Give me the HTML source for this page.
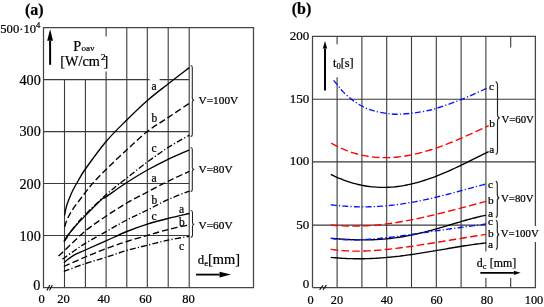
<!DOCTYPE html>
<html><head><meta charset="utf-8"><style>
html,body{margin:0;padding:0;background:#fff;}
body{width:544px;height:307px;overflow:hidden;}
svg{display:block;}
text{font-family:"Liberation Serif","Times New Roman",serif;fill:#000;stroke:#000;stroke-width:0.22px;}
</style></head><body>
<svg width="544" height="307" viewBox="0 0 544 307">
<rect width="544" height="307" fill="#fff"/>
<path d="M43.5,79.6H189.2M43.5,131.6H189.2M43.5,183.5H189.2M43.5,235.5H189.2M64.5,79.6V287.7M85.4,79.6V287.7M106.1,27.5V36.4M106.1,71.4V287.7M126.8,27.5V287.7M147.3,27.5V287.7M168.2,27.5V287.7M189.2,27.5V287.7" stroke="#3a3a3a" stroke-width="1.1" fill="none"/>
<path d="M43.5,27.5H253.5V287.7H43.5Z" stroke="#444" stroke-width="1.25" fill="none"/>
<rect x="149.7" y="78.4" width="9.9" height="2.4" fill="#fff"/>
<path d="M64.50,215.50 C64.83,213.93 65.62,209.15 66.50,206.10 C67.38,203.05 68.72,199.88 69.80,197.20 C70.88,194.52 71.58,192.78 73.00,190.00 C74.42,187.22 76.23,184.00 78.30,180.50 C80.37,177.00 80.73,175.53 85.40,169.00 C90.07,162.47 99.40,149.47 106.30,141.30 C113.20,133.13 119.95,126.80 126.80,120.00 C133.65,113.20 140.53,106.50 147.40,100.50 C154.27,94.50 161.02,89.48 168.00,84.00 C174.98,78.52 185.75,70.33 189.30,67.60" fill="none" stroke="#000" stroke-width="1.35"/>
<path d="M64.50,227.00 C65.07,225.47 66.40,220.93 67.90,217.80 C69.40,214.67 71.55,211.17 73.50,208.20 C75.45,205.23 77.62,202.63 79.60,200.00 C81.58,197.37 83.50,194.85 85.40,192.40 C87.30,189.95 89.15,187.50 91.00,185.30 C92.85,183.10 93.95,181.87 96.50,179.20 C99.05,176.53 101.25,174.20 106.30,169.30 C111.35,164.40 119.92,156.13 126.80,149.80 C133.68,143.47 140.73,136.67 147.60,131.30 C154.47,125.93 161.05,122.27 168.00,117.60 C174.95,112.93 185.75,105.68 189.30,103.30" fill="none" stroke="#000" stroke-width="1.35" stroke-dasharray="6.5,3"/>
<path d="M64.50,241.00 C66.33,238.42 72.02,229.92 75.50,225.50 C78.98,221.08 80.27,219.67 85.40,214.50 C90.53,209.33 99.40,200.58 106.30,194.50 C113.20,188.42 119.95,183.42 126.80,178.00 C133.65,172.58 140.53,167.08 147.40,162.00 C154.27,156.92 161.02,151.97 168.00,147.50 C174.98,143.03 185.75,137.25 189.30,135.20" fill="none" stroke="#000" stroke-width="1.35" stroke-dasharray="6,2.2,1.2,2.2"/>
<path d="M63.80,241.60 C64.45,240.58 65.75,238.10 67.70,235.50 C69.65,232.90 72.55,229.32 75.50,226.00 C78.45,222.68 81.15,219.93 85.40,215.60 C89.65,211.27 97.52,203.17 101.00,200.00 C104.48,196.83 102.00,199.52 106.30,196.60 C110.60,193.68 119.95,186.93 126.80,182.50 C133.65,178.07 140.53,173.87 147.40,170.00 C154.27,166.13 161.02,162.67 168.00,159.30 C174.98,155.93 185.75,151.38 189.30,149.80" fill="none" stroke="#000" stroke-width="1.35"/>
<path d="M58.60,256.00 C59.58,255.08 60.05,254.67 64.50,250.50 C68.95,246.33 78.33,236.75 85.30,231.00 C92.27,225.25 99.38,220.67 106.30,216.00 C113.22,211.33 119.95,207.00 126.80,203.00 C133.65,199.00 140.53,195.62 147.40,192.00 C154.27,188.38 161.02,184.75 168.00,181.30 C174.98,177.85 185.75,172.97 189.30,171.30" fill="none" stroke="#000" stroke-width="1.35" stroke-dasharray="6.5,3"/>
<path d="M62.40,259.20 C64.27,257.87 69.78,253.83 73.60,251.20 C77.42,248.57 79.82,246.72 85.30,243.40 C90.78,240.08 99.58,235.20 106.50,231.30 C113.42,227.40 119.98,223.55 126.80,220.00 C133.62,216.45 140.53,213.40 147.40,210.00 C154.27,206.60 161.02,202.75 168.00,199.60 C174.98,196.45 185.75,192.52 189.30,191.10" fill="none" stroke="#000" stroke-width="1.35" stroke-dasharray="6,2.2,1.2,2.2"/>
<path d="M63.80,262.60 C65.43,261.38 70.02,257.40 73.60,255.30 C77.18,253.20 79.82,252.45 85.30,250.00 C90.78,247.55 99.58,243.68 106.50,240.60 C113.42,237.52 119.98,234.25 126.80,231.50 C133.62,228.75 140.53,226.27 147.40,224.10 C154.27,221.93 161.02,220.27 168.00,218.50 C174.98,216.73 185.75,214.33 189.30,213.50" fill="none" stroke="#000" stroke-width="1.35"/>
<path d="M63.80,266.50 C67.38,264.92 78.18,260.00 85.30,257.00 C92.42,254.00 99.58,251.08 106.50,248.50 C113.42,245.92 119.98,243.68 126.80,241.50 C133.62,239.32 140.53,237.38 147.40,235.40 C154.27,233.42 161.02,231.37 168.00,229.60 C174.98,227.83 185.75,225.60 189.30,224.80" fill="none" stroke="#000" stroke-width="1.35" stroke-dasharray="6.5,3"/>
<path d="M63.80,271.40 C67.38,270.10 78.18,265.98 85.30,263.60 C92.42,261.22 99.58,259.28 106.50,257.10 C113.42,254.92 119.98,252.48 126.80,250.50 C133.62,248.52 140.53,246.92 147.40,245.20 C154.27,243.48 161.02,241.68 168.00,240.20 C174.98,238.72 185.75,236.95 189.30,236.30" fill="none" stroke="#000" stroke-width="1.35" stroke-dasharray="6,2.2,1.2,2.2"/>
<path d="M190.6,65.5 Q192.3,65.5 192.3,67.5 L192.3,98.2 Q192.3,100.2 194.2,100.2 Q192.3,100.2 192.3,102.2 L192.3,134.5 Q192.3,136.5 190.6,136.5" fill="none" stroke="#222" stroke-width="1.05"/>
<path d="M190.6,147.5 Q192.3,147.5 192.3,149.5 L192.3,167.5 Q192.3,169.5 194.2,169.5 Q192.3,169.5 192.3,171.5 L192.3,189.5 Q192.3,191.5 190.6,191.5" fill="none" stroke="#222" stroke-width="1.05"/>
<path d="M190.6,210.5 Q192.5,210.5 192.5,212.5 L192.5,222.5 Q192.5,224.5 194.2,224.5 Q192.5,224.5 192.5,226.5 L192.5,235.3 Q192.5,237.3 190.6,237.3" fill="none" stroke="#222" stroke-width="1.05"/>
<path d="M312.5,99.3H535.4M312.5,161.9H535.4M312.5,225.1H485.9M337.1,36.3V44.3M337.1,77.3V287.5M361.9,36.3V287.5M386.7,36.3V287.5M411.5,36.3V287.5M436.3,36.3V287.5M461.1,36.3V287.5M485.9,36.3V251.5M485.9,278V287.5M510.7,36.3V47.4M510.7,278V287.5" stroke="#3a3a3a" stroke-width="1.1" fill="none"/>
<path d="M312.5,287.5V36.3H535.4V226M535.4,242V287.5H312.5" stroke="#444" stroke-width="1.25" fill="none"/>
<path d="M331.30,143.15 C331.80,143.42 333.32,144.28 334.32,144.81 C335.33,145.35 336.34,145.87 337.35,146.37 C338.36,146.87 339.37,147.35 340.38,147.82 C341.38,148.28 342.39,148.73 343.40,149.16 C344.41,149.59 345.42,150.00 346.43,150.39 C347.43,150.79 348.44,151.16 349.45,151.52 C350.46,151.88 351.47,152.22 352.48,152.55 C353.48,152.88 354.49,153.19 355.50,153.48 C356.51,153.77 357.52,154.05 358.53,154.31 C359.53,154.57 360.54,154.81 361.55,155.04 C362.56,155.27 363.57,155.48 364.58,155.68 C365.58,155.88 366.59,156.06 367.60,156.23 C368.61,156.39 369.62,156.54 370.62,156.68 C371.63,156.82 372.64,156.94 373.65,157.05 C374.66,157.15 375.67,157.25 376.68,157.33 C377.68,157.40 378.69,157.47 379.70,157.52 C380.71,157.57 381.72,157.61 382.73,157.63 C383.73,157.65 384.74,157.66 385.75,157.66 C386.76,157.65 387.77,157.64 388.78,157.61 C389.78,157.58 390.79,157.53 391.80,157.48 C392.81,157.42 393.82,157.36 394.83,157.28 C395.83,157.20 396.84,157.10 397.85,157.00 C398.86,156.90 399.87,156.78 400.88,156.65 C401.88,156.53 402.89,156.39 403.90,156.24 C404.91,156.09 405.92,155.93 406.93,155.75 C407.93,155.58 408.94,155.40 409.95,155.21 C410.96,155.01 411.97,154.81 412.98,154.60 C413.98,154.38 414.99,154.16 416.00,153.93 C417.01,153.69 418.02,153.45 419.03,153.20 C420.03,152.94 421.04,152.68 422.05,152.41 C423.06,152.14 424.07,151.86 425.08,151.57 C426.08,151.28 427.09,150.99 428.10,150.68 C429.11,150.38 430.12,150.06 431.12,149.74 C432.13,149.42 433.14,149.09 434.15,148.76 C435.16,148.42 436.17,148.08 437.18,147.72 C438.18,147.37 439.19,147.02 440.20,146.65 C441.21,146.29 442.22,145.91 443.23,145.54 C444.23,145.16 445.24,144.78 446.25,144.39 C447.26,144.00 448.27,143.60 449.28,143.20 C450.28,142.80 451.29,142.39 452.30,141.98 C453.31,141.57 454.32,141.15 455.33,140.73 C456.33,140.31 457.34,139.88 458.35,139.45 C459.36,139.02 460.37,138.59 461.38,138.15 C462.38,137.71 463.39,137.27 464.40,136.82 C465.41,136.38 466.42,135.93 467.43,135.48 C468.43,135.02 469.44,134.57 470.45,134.11 C471.46,133.65 472.47,133.19 473.48,132.73 C474.48,132.27 475.49,131.80 476.50,131.34 C477.51,130.87 478.52,130.40 479.53,129.93 C480.53,129.46 481.54,128.99 482.55,128.52 C483.56,128.05 484.57,127.58 485.58,127.10 C486.58,126.63 488.10,125.92 488.60,125.68" fill="none" stroke="#ff0000" stroke-width="1.35" stroke-dasharray="7.5,3.3"/>
<path d="M333.60,80.40 C334.43,81.38 337.08,84.47 338.60,86.30 C340.12,88.13 341.05,89.65 342.70,91.40 C344.35,93.15 346.55,95.13 348.50,96.80 C350.45,98.47 352.35,99.95 354.40,101.40 C356.45,102.85 358.70,104.32 360.80,105.50 C362.90,106.68 364.80,107.60 367.00,108.50 C369.20,109.40 370.65,110.07 374.00,110.90 C377.35,111.73 382.93,112.95 387.10,113.50 C391.27,114.05 394.92,114.25 399.00,114.20 C403.08,114.15 407.43,113.68 411.60,113.20 C415.77,112.72 419.85,112.12 424.00,111.30 C428.15,110.48 430.28,110.27 436.50,108.30 C442.72,106.33 452.75,102.90 461.30,99.50 C469.85,96.10 483.38,89.83 487.80,87.90" fill="none" stroke="#0514ff" stroke-width="1.35" stroke-dasharray="6,2.2,1.2,2.2"/>
<path d="M330.80,174.41 C331.31,174.66 332.82,175.41 333.83,175.89 C334.85,176.37 335.86,176.83 336.87,177.28 C337.88,177.72 338.89,178.16 339.90,178.58 C340.92,178.99 341.93,179.40 342.94,179.78 C343.95,180.17 344.96,180.54 345.97,180.90 C346.98,181.26 348.00,181.60 349.01,181.93 C350.02,182.26 351.03,182.57 352.04,182.87 C353.05,183.17 354.07,183.45 355.08,183.72 C356.09,183.98 357.10,184.24 358.11,184.47 C359.12,184.71 360.13,184.93 361.15,185.14 C362.16,185.35 363.17,185.54 364.18,185.72 C365.19,185.90 366.20,186.06 367.22,186.21 C368.23,186.36 369.24,186.50 370.25,186.62 C371.26,186.74 372.27,186.84 373.28,186.93 C374.30,187.03 375.31,187.10 376.32,187.16 C377.33,187.23 378.34,187.28 379.35,187.31 C380.37,187.34 381.38,187.37 382.39,187.37 C383.40,187.38 384.41,187.37 385.42,187.35 C386.43,187.33 387.45,187.29 388.46,187.25 C389.47,187.20 390.48,187.14 391.49,187.06 C392.50,186.99 393.52,186.90 394.53,186.80 C395.54,186.70 396.55,186.59 397.56,186.46 C398.57,186.34 399.58,186.20 400.60,186.05 C401.61,185.89 402.62,185.73 403.63,185.56 C404.64,185.38 405.65,185.19 406.67,184.99 C407.68,184.79 408.69,184.58 409.70,184.36 C410.71,184.14 411.72,183.90 412.73,183.66 C413.75,183.42 414.76,183.16 415.77,182.89 C416.78,182.63 417.79,182.35 418.80,182.06 C419.82,181.77 420.83,181.48 421.84,181.17 C422.85,180.86 423.86,180.54 424.87,180.22 C425.88,179.89 426.90,179.55 427.91,179.21 C428.92,178.86 429.93,178.51 430.94,178.14 C431.95,177.78 432.97,177.41 433.98,177.03 C434.99,176.65 436.00,176.26 437.01,175.86 C438.02,175.47 439.03,175.06 440.05,174.65 C441.06,174.24 442.07,173.82 443.08,173.40 C444.09,172.97 445.10,172.54 446.12,172.10 C447.13,171.66 448.14,171.22 449.15,170.77 C450.16,170.32 451.17,169.87 452.18,169.41 C453.20,168.95 454.21,168.48 455.22,168.01 C456.23,167.54 457.24,167.07 458.25,166.59 C459.27,166.11 460.28,165.63 461.29,165.14 C462.30,164.66 463.31,164.17 464.32,163.68 C465.33,163.19 466.35,162.69 467.36,162.19 C468.37,161.70 469.38,161.20 470.39,160.70 C471.40,160.20 472.42,159.70 473.43,159.20 C474.44,158.70 475.45,158.19 476.46,157.69 C477.47,157.19 478.48,156.68 479.50,156.18 C480.51,155.68 481.52,155.18 482.53,154.68 C483.54,154.18 484.55,153.68 485.57,153.18 C486.58,152.69 488.09,151.95 488.60,151.70" fill="none" stroke="#000" stroke-width="1.35"/>
<path d="M330.80,224.91 C331.31,224.96 332.83,225.13 333.85,225.24 C334.86,225.34 335.88,225.43 336.89,225.51 C337.91,225.60 338.92,225.67 339.94,225.74 C340.95,225.81 341.97,225.87 342.98,225.92 C344.00,225.97 345.01,226.02 346.03,226.05 C347.04,226.09 348.06,226.12 349.07,226.14 C350.09,226.16 351.10,226.17 352.12,226.18 C353.13,226.18 354.15,226.18 355.16,226.18 C356.18,226.17 357.19,226.15 358.21,226.13 C359.22,226.11 360.24,226.08 361.25,226.05 C362.27,226.01 363.28,225.97 364.30,225.92 C365.31,225.87 366.33,225.82 367.34,225.76 C368.36,225.70 369.37,225.63 370.39,225.56 C371.40,225.48 372.42,225.41 373.43,225.32 C374.45,225.24 375.46,225.15 376.48,225.05 C377.49,224.95 378.51,224.85 379.52,224.74 C380.54,224.64 381.55,224.52 382.57,224.41 C383.58,224.29 384.60,224.17 385.61,224.04 C386.63,223.91 387.64,223.78 388.66,223.64 C389.67,223.50 390.69,223.36 391.70,223.21 C392.72,223.06 393.73,222.91 394.75,222.75 C395.76,222.60 396.78,222.44 397.79,222.27 C398.81,222.11 399.82,221.94 400.84,221.76 C401.85,221.59 402.87,221.41 403.88,221.23 C404.90,221.05 405.91,220.86 406.93,220.68 C407.94,220.49 408.96,220.29 409.97,220.10 C410.99,219.90 412.00,219.70 413.02,219.50 C414.03,219.29 415.05,219.09 416.06,218.88 C417.08,218.67 418.09,218.45 419.11,218.24 C420.12,218.02 421.14,217.80 422.15,217.58 C423.17,217.36 424.18,217.14 425.20,216.91 C426.21,216.68 427.23,216.45 428.24,216.22 C429.26,215.99 430.27,215.75 431.29,215.51 C432.30,215.28 433.32,215.04 434.33,214.79 C435.35,214.55 436.36,214.31 437.38,214.06 C438.39,213.82 439.41,213.57 440.42,213.32 C441.44,213.07 442.45,212.82 443.47,212.56 C444.48,212.31 445.50,212.05 446.51,211.80 C447.53,211.54 448.54,211.28 449.56,211.02 C450.57,210.76 451.59,210.50 452.60,210.24 C453.62,209.98 454.63,209.72 455.65,209.45 C456.66,209.19 457.68,208.92 458.69,208.66 C459.71,208.39 460.72,208.12 461.74,207.86 C462.75,207.59 463.77,207.32 464.78,207.05 C465.80,206.78 466.81,206.51 467.83,206.24 C468.84,205.97 469.86,205.70 470.87,205.43 C471.89,205.16 472.90,204.89 473.92,204.62 C474.93,204.34 475.95,204.07 476.96,203.80 C477.98,203.53 478.99,203.26 480.01,202.99 C481.02,202.71 482.04,202.44 483.05,202.17 C484.07,201.90 485.59,201.49 486.10,201.36" fill="none" stroke="#ff0000" stroke-width="1.35" stroke-dasharray="7.5,3.3"/>
<path d="M330.80,204.80 C331.31,204.86 332.83,205.05 333.85,205.17 C334.86,205.28 335.88,205.39 336.89,205.49 C337.91,205.60 338.92,205.70 339.94,205.79 C340.95,205.88 341.97,205.97 342.98,206.05 C344.00,206.13 345.01,206.20 346.03,206.27 C347.04,206.34 348.06,206.40 349.07,206.46 C350.09,206.52 351.10,206.57 352.12,206.61 C353.13,206.66 354.15,206.69 355.16,206.73 C356.18,206.76 357.19,206.78 358.21,206.80 C359.22,206.82 360.24,206.84 361.25,206.85 C362.27,206.85 363.28,206.85 364.30,206.85 C365.31,206.85 366.33,206.83 367.34,206.82 C368.36,206.80 369.37,206.78 370.39,206.75 C371.40,206.72 372.42,206.68 373.43,206.64 C374.45,206.60 375.46,206.55 376.48,206.50 C377.49,206.45 378.51,206.39 379.52,206.32 C380.54,206.26 381.55,206.18 382.57,206.11 C383.58,206.03 384.60,205.95 385.61,205.86 C386.63,205.77 387.64,205.67 388.66,205.57 C389.67,205.47 390.69,205.36 391.70,205.25 C392.72,205.14 393.73,205.02 394.75,204.90 C395.76,204.78 396.78,204.65 397.79,204.51 C398.81,204.38 399.82,204.24 400.84,204.09 C401.85,203.95 402.87,203.80 403.88,203.64 C404.90,203.49 405.91,203.33 406.93,203.16 C407.94,202.99 408.96,202.82 409.97,202.65 C410.99,202.47 412.00,202.29 413.02,202.11 C414.03,201.92 415.05,201.73 416.06,201.54 C417.08,201.34 418.09,201.14 419.11,200.94 C420.12,200.74 421.14,200.53 422.15,200.32 C423.17,200.11 424.18,199.89 425.20,199.67 C426.21,199.45 427.23,199.23 428.24,199.00 C429.26,198.78 430.27,198.55 431.29,198.31 C432.30,198.08 433.32,197.84 434.33,197.60 C435.35,197.36 436.36,197.11 437.38,196.87 C438.39,196.62 439.41,196.37 440.42,196.12 C441.44,195.87 442.45,195.61 443.47,195.35 C444.48,195.09 445.50,194.83 446.51,194.57 C447.53,194.31 448.54,194.05 449.56,193.78 C450.57,193.51 451.59,193.25 452.60,192.98 C453.62,192.71 454.63,192.44 455.65,192.16 C456.66,191.89 457.68,191.62 458.69,191.35 C459.71,191.07 460.72,190.80 461.74,190.52 C462.75,190.25 463.77,189.97 464.78,189.69 C465.80,189.42 466.81,189.14 467.83,188.86 C468.84,188.59 469.86,188.31 470.87,188.04 C471.89,187.76 472.90,187.49 473.92,187.21 C474.93,186.94 475.95,186.67 476.96,186.39 C477.98,186.12 478.99,185.85 480.01,185.58 C481.02,185.31 482.04,185.05 483.05,184.78 C484.07,184.52 485.59,184.13 486.10,184.00" fill="none" stroke="#0514ff" stroke-width="1.35" stroke-dasharray="6,2.2,1.2,2.2"/>
<path d="M330.80,238.30 C331.31,238.34 332.83,238.46 333.85,238.54 C334.86,238.61 335.88,238.69 336.89,238.76 C337.91,238.84 338.92,238.91 339.94,238.98 C340.95,239.05 341.97,239.11 342.98,239.18 C344.00,239.24 345.01,239.30 346.03,239.36 C347.04,239.41 348.06,239.47 349.07,239.52 C350.09,239.57 351.10,239.61 352.12,239.65 C353.13,239.69 354.15,239.73 355.16,239.76 C356.18,239.79 357.19,239.82 358.21,239.84 C359.22,239.86 360.24,239.87 361.25,239.88 C362.27,239.90 363.28,239.90 364.30,239.90 C365.31,239.90 366.33,239.89 367.34,239.88 C368.36,239.86 369.37,239.85 370.39,239.82 C371.40,239.79 372.42,239.76 373.43,239.72 C374.45,239.68 375.46,239.64 376.48,239.59 C377.49,239.54 378.51,239.48 379.52,239.41 C380.54,239.35 381.55,239.27 382.57,239.20 C383.58,239.12 384.60,239.03 385.61,238.94 C386.63,238.84 387.64,238.74 388.66,238.64 C389.67,238.53 390.69,238.41 391.70,238.29 C392.72,238.17 393.73,238.04 394.75,237.91 C395.76,237.77 396.78,237.63 397.79,237.48 C398.81,237.33 399.82,237.18 400.84,237.01 C401.85,236.85 402.87,236.68 403.88,236.51 C404.90,236.33 405.91,236.15 406.93,235.96 C407.94,235.77 408.96,235.57 409.97,235.37 C410.99,235.17 412.00,234.96 413.02,234.74 C414.03,234.53 415.05,234.31 416.06,234.08 C417.08,233.85 418.09,233.62 419.11,233.38 C420.12,233.15 421.14,232.90 422.15,232.66 C423.17,232.41 424.18,232.15 425.20,231.90 C426.21,231.64 427.23,231.37 428.24,231.11 C429.26,230.84 430.27,230.57 431.29,230.29 C432.30,230.02 433.32,229.74 434.33,229.45 C435.35,229.17 436.36,228.89 437.38,228.60 C438.39,228.31 439.41,228.02 440.42,227.72 C441.44,227.43 442.45,227.13 443.47,226.83 C444.48,226.53 445.50,226.23 446.51,225.93 C447.53,225.63 448.54,225.33 449.56,225.02 C450.57,224.72 451.59,224.42 452.60,224.11 C453.62,223.81 454.63,223.51 455.65,223.20 C456.66,222.90 457.68,222.60 458.69,222.30 C459.71,222.00 460.72,221.70 461.74,221.40 C462.75,221.11 463.77,220.81 464.78,220.52 C465.80,220.23 466.81,219.94 467.83,219.66 C468.84,219.38 469.86,219.10 470.87,218.82 C471.89,218.55 472.90,218.28 473.92,218.02 C474.93,217.75 475.95,217.49 476.96,217.24 C477.98,216.99 478.99,216.75 480.01,216.51 C481.02,216.28 482.04,216.05 483.05,215.83 C484.07,215.61 485.59,215.30 486.10,215.19" fill="none" stroke="#000" stroke-width="1.35"/>
<path d="M330.80,249.28 C331.31,249.35 332.83,249.58 333.85,249.71 C334.86,249.84 335.88,249.97 336.89,250.08 C337.91,250.19 338.92,250.30 339.94,250.39 C340.95,250.48 341.97,250.57 342.98,250.64 C344.00,250.71 345.01,250.78 346.03,250.84 C347.04,250.89 348.06,250.94 349.07,250.98 C350.09,251.02 351.10,251.05 352.12,251.08 C353.13,251.10 354.15,251.11 355.16,251.12 C356.18,251.13 357.19,251.13 358.21,251.13 C359.22,251.12 360.24,251.11 361.25,251.09 C362.27,251.07 363.28,251.04 364.30,251.01 C365.31,250.98 366.33,250.94 367.34,250.90 C368.36,250.85 369.37,250.80 370.39,250.74 C371.40,250.69 372.42,250.63 373.43,250.56 C374.45,250.50 375.46,250.42 376.48,250.35 C377.49,250.27 378.51,250.19 379.52,250.11 C380.54,250.02 381.55,249.93 382.57,249.84 C383.58,249.74 384.60,249.64 385.61,249.54 C386.63,249.44 387.64,249.34 388.66,249.23 C389.67,249.12 390.69,249.00 391.70,248.89 C392.72,248.77 393.73,248.65 394.75,248.53 C395.76,248.41 396.78,248.28 397.79,248.16 C398.81,248.03 399.82,247.90 400.84,247.76 C401.85,247.63 402.87,247.50 403.88,247.36 C404.90,247.22 405.91,247.08 406.93,246.94 C407.94,246.80 408.96,246.65 409.97,246.51 C410.99,246.36 412.00,246.21 413.02,246.06 C414.03,245.91 415.05,245.76 416.06,245.61 C417.08,245.46 418.09,245.31 419.11,245.15 C420.12,245.00 421.14,244.84 422.15,244.68 C423.17,244.53 424.18,244.37 425.20,244.21 C426.21,244.05 427.23,243.89 428.24,243.73 C429.26,243.57 430.27,243.41 431.29,243.24 C432.30,243.08 433.32,242.92 434.33,242.76 C435.35,242.59 436.36,242.43 437.38,242.26 C438.39,242.10 439.41,241.94 440.42,241.77 C441.44,241.61 442.45,241.44 443.47,241.27 C444.48,241.11 445.50,240.94 446.51,240.78 C447.53,240.61 448.54,240.45 449.56,240.28 C450.57,240.11 451.59,239.95 452.60,239.78 C453.62,239.61 454.63,239.45 455.65,239.28 C456.66,239.12 457.68,238.95 458.69,238.78 C459.71,238.62 460.72,238.45 461.74,238.28 C462.75,238.12 463.77,237.95 464.78,237.79 C465.80,237.62 466.81,237.45 467.83,237.29 C468.84,237.12 469.86,236.96 470.87,236.79 C471.89,236.62 472.90,236.46 473.92,236.29 C474.93,236.13 475.95,235.96 476.96,235.79 C477.98,235.63 478.99,235.46 480.01,235.29 C481.02,235.13 482.04,234.96 483.05,234.80 C484.07,234.63 485.59,234.38 486.10,234.30" fill="none" stroke="#ff0000" stroke-width="1.35" stroke-dasharray="7.5,3.3"/>
<path d="M330.80,257.36 C331.31,257.41 332.83,257.56 333.85,257.66 C334.86,257.75 335.88,257.84 336.89,257.92 C337.91,258.00 338.92,258.07 339.94,258.14 C340.95,258.21 341.97,258.27 342.98,258.33 C344.00,258.39 345.01,258.44 346.03,258.49 C347.04,258.53 348.06,258.57 349.07,258.61 C350.09,258.64 351.10,258.67 352.12,258.69 C353.13,258.72 354.15,258.73 355.16,258.75 C356.18,258.76 357.19,258.77 358.21,258.77 C359.22,258.77 360.24,258.76 361.25,258.75 C362.27,258.74 363.28,258.73 364.30,258.71 C365.31,258.69 366.33,258.66 367.34,258.63 C368.36,258.60 369.37,258.57 370.39,258.53 C371.40,258.49 372.42,258.44 373.43,258.39 C374.45,258.34 375.46,258.28 376.48,258.22 C377.49,258.16 378.51,258.10 379.52,258.03 C380.54,257.96 381.55,257.89 382.57,257.81 C383.58,257.73 384.60,257.65 385.61,257.56 C386.63,257.47 387.64,257.38 388.66,257.29 C389.67,257.19 390.69,257.09 391.70,256.99 C392.72,256.89 393.73,256.78 394.75,256.67 C395.76,256.56 396.78,256.44 397.79,256.32 C398.81,256.21 399.82,256.08 400.84,255.96 C401.85,255.83 402.87,255.70 403.88,255.57 C404.90,255.44 405.91,255.30 406.93,255.17 C407.94,255.03 408.96,254.89 409.97,254.74 C410.99,254.60 412.00,254.45 413.02,254.31 C414.03,254.16 415.05,254.00 416.06,253.85 C417.08,253.70 418.09,253.54 419.11,253.38 C420.12,253.22 421.14,253.06 422.15,252.90 C423.17,252.74 424.18,252.58 425.20,252.41 C426.21,252.25 427.23,252.08 428.24,251.91 C429.26,251.74 430.27,251.57 431.29,251.40 C432.30,251.23 433.32,251.06 434.33,250.89 C435.35,250.71 436.36,250.54 437.38,250.37 C438.39,250.19 439.41,250.02 440.42,249.85 C441.44,249.67 442.45,249.50 443.47,249.32 C444.48,249.15 445.50,248.97 446.51,248.80 C447.53,248.63 448.54,248.45 449.56,248.28 C450.57,248.11 451.59,247.94 452.60,247.76 C453.62,247.59 454.63,247.42 455.65,247.25 C456.66,247.09 457.68,246.92 458.69,246.75 C459.71,246.59 460.72,246.42 461.74,246.26 C462.75,246.10 463.77,245.94 464.78,245.78 C465.80,245.63 466.81,245.47 467.83,245.32 C468.84,245.17 469.86,245.02 470.87,244.87 C471.89,244.72 472.90,244.58 473.92,244.44 C474.93,244.30 475.95,244.16 476.96,244.03 C477.98,243.90 478.99,243.77 480.01,243.64 C481.02,243.52 482.04,243.40 483.05,243.28 C484.07,243.17 485.59,243.00 486.10,242.95" fill="none" stroke="#000" stroke-width="1.35"/>
<path d="M330.80,238.40 C331.31,238.47 332.83,238.68 333.85,238.79 C334.86,238.91 335.88,239.02 336.89,239.12 C337.91,239.21 338.92,239.30 339.94,239.37 C340.95,239.45 341.97,239.52 342.98,239.57 C344.00,239.63 345.01,239.68 346.03,239.71 C347.04,239.75 348.06,239.78 349.07,239.80 C350.09,239.82 351.10,239.83 352.12,239.84 C353.13,239.84 354.15,239.84 355.16,239.83 C356.18,239.82 357.19,239.80 358.21,239.77 C359.22,239.75 360.24,239.72 361.25,239.68 C362.27,239.64 363.28,239.60 364.30,239.55 C365.31,239.50 366.33,239.44 367.34,239.38 C368.36,239.32 369.37,239.25 370.39,239.18 C371.40,239.11 372.42,239.03 373.43,238.95 C374.45,238.87 375.46,238.78 376.48,238.69 C377.49,238.60 378.51,238.50 379.52,238.41 C380.54,238.31 381.55,238.20 382.57,238.10 C383.58,237.99 384.60,237.88 385.61,237.77 C386.63,237.66 387.64,237.54 388.66,237.43 C389.67,237.31 390.69,237.19 391.70,237.06 C392.72,236.94 393.73,236.81 394.75,236.69 C395.76,236.56 396.78,236.43 397.79,236.30 C398.81,236.16 399.82,236.03 400.84,235.89 C401.85,235.76 402.87,235.62 403.88,235.48 C404.90,235.35 405.91,235.21 406.93,235.06 C407.94,234.92 408.96,234.78 409.97,234.64 C410.99,234.50 412.00,234.35 413.02,234.21 C414.03,234.06 415.05,233.92 416.06,233.77 C417.08,233.63 418.09,233.48 419.11,233.34 C420.12,233.19 421.14,233.04 422.15,232.90 C423.17,232.75 424.18,232.60 425.20,232.46 C426.21,232.31 427.23,232.16 428.24,232.01 C429.26,231.87 430.27,231.72 431.29,231.57 C432.30,231.43 433.32,231.28 434.33,231.14 C435.35,230.99 436.36,230.84 437.38,230.70 C438.39,230.55 439.41,230.41 440.42,230.26 C441.44,230.12 442.45,229.97 443.47,229.83 C444.48,229.69 445.50,229.54 446.51,229.40 C447.53,229.26 448.54,229.11 449.56,228.97 C450.57,228.83 451.59,228.69 452.60,228.55 C453.62,228.41 454.63,228.27 455.65,228.13 C456.66,227.99 457.68,227.85 458.69,227.71 C459.71,227.57 460.72,227.43 461.74,227.29 C462.75,227.16 463.77,227.02 464.78,226.88 C465.80,226.74 466.81,226.61 467.83,226.47 C468.84,226.33 469.86,226.20 470.87,226.06 C471.89,225.92 472.90,225.79 473.92,225.65 C474.93,225.51 475.95,225.38 476.96,225.24 C477.98,225.10 478.99,224.97 480.01,224.83 C481.02,224.69 482.04,224.55 483.05,224.42 C484.07,224.28 485.59,224.07 486.10,224.00" fill="none" stroke="#0514ff" stroke-width="1.35" stroke-dasharray="6,2.2,1.2,2.2"/>
<path d="M495.6,81.8 Q497.5,81.8 497.5,85.8 L497.5,113.8 Q497.5,117.8 499.8,117.8 Q497.5,117.8 497.5,121.8 L497.5,150.2 Q497.5,154.2 495.6,154.2" fill="none" stroke="#222" stroke-width="1.15"/>
<path d="M495.8,181.3 Q497.3,181.3 497.3,184.8 L497.3,194.3 Q497.3,197.8 499.3,197.8 Q497.3,197.8 497.3,201.3 L497.3,213.9 Q497.3,217.4 495.8,217.4" fill="none" stroke="#222" stroke-width="1.15"/>
<path d="M495.8,220.2 Q497.3,220.2 497.3,223.7 L497.3,231.1 Q497.3,234.6 499.3,234.6 Q497.3,234.6 497.3,238.1 L497.3,246.1 Q497.3,249.6 495.8,249.6" fill="none" stroke="#222" stroke-width="1.15"/>
<path d="M50.1,64.8V40.8" stroke="#000" stroke-width="2"/><path d="M47.2,40.8L50.1,29.2L53.0,40.8Z" fill="#000"/>
<path d="M325.0,90.5V48.4" stroke="#000" stroke-width="2"/><path d="M322.8,48.4L325.0,41.0L327.2,48.4Z" fill="#000"/>
<path d="M196.1,274.6H219.5" stroke="#000" stroke-width="1.8"/><path d="M219.5,271.8L231,274.6L219.5,277.40000000000003Z" fill="#000"/>
<path d="M480.3,272.8H513.8" stroke="#000" stroke-width="1.8"/><path d="M513.8,270.7L520.6,272.8L513.8,274.90000000000003Z" fill="#000"/>
<path d="M46.9,290.6L49.9,285.0M49.5,290.3L52.4,285.0" stroke="#111" stroke-width="1.1" fill="none"/>
<path d="M319.6,289.8L323.0,285.4M323.0,289.8L326.4,285.2" stroke="#111" stroke-width="1.1" fill="none"/>
<text x="34.3" y="14.6" font-size="16" text-anchor="middle" font-weight="bold" fill="#111" >(a)</text>
<text x="301.5" y="13.8" font-size="16" text-anchor="middle" font-weight="bold" fill="#111" >(b)</text>
<text x="0.3" y="32.8" font-size="12.6" fill="#111" >500·10<tspan font-size="8.5" dy="-5.2">4</tspan></text>
<text x="40.8" y="84.6" font-size="14.2" text-anchor="end" fill="#111" >400</text>
<text x="40.8" y="135.8" font-size="14.2" text-anchor="end" fill="#111" >300</text>
<text x="40.8" y="188.9" font-size="14.2" text-anchor="end" fill="#111" >200</text>
<text x="40.8" y="240.7" font-size="14.2" text-anchor="end" fill="#111" >100</text>
<text x="40.3" y="289.5" font-size="14.2" text-anchor="end" fill="#111" >0</text>
<text x="41.5" y="303.4" font-size="12.5" text-anchor="middle" fill="#111" >0</text>
<text x="63.4" y="303.4" font-size="12.5" text-anchor="middle" fill="#111" >20</text>
<text x="103.8" y="303.4" font-size="12.5" text-anchor="middle" fill="#111" >40</text>
<text x="145.6" y="303.4" font-size="12.5" text-anchor="middle" fill="#111" >60</text>
<text x="188.4" y="303.4" font-size="12.5" text-anchor="middle" fill="#111" >80</text>
<text x="309.3" y="39.8" font-size="13" text-anchor="end" fill="#111" >200</text>
<text x="309.3" y="102.8" font-size="13" text-anchor="end" fill="#111" >150</text>
<text x="309.3" y="165.4" font-size="13" text-anchor="end" fill="#111" >100</text>
<text x="309.3" y="228.5" font-size="13" text-anchor="end" fill="#111" >50</text>
<text x="309.3" y="287.8" font-size="13" text-anchor="end" fill="#111" >0</text>
<text x="310.5" y="303.6" font-size="12.3" text-anchor="middle" fill="#111" >0</text>
<text x="337" y="303.6" font-size="12.3" text-anchor="middle" fill="#111" >20</text>
<text x="386.8" y="303.6" font-size="12.3" text-anchor="middle" fill="#111" >40</text>
<text x="436.6" y="303.6" font-size="12.3" text-anchor="middle" fill="#111" >60</text>
<text x="487" y="303.6" font-size="12.3" text-anchor="middle" fill="#111" >80</text>
<text x="534" y="303.6" font-size="12.3" text-anchor="middle" fill="#111" >100</text>
<text x="73.2" y="50.7" font-size="14.3" fill="#111" >P<tspan font-size="9.2" dy="0.6" dx="0.3">oav</tspan></text>
<text x="60.3" y="66.2" font-size="14.3" fill="#111" >[W/cm<tspan font-size="9.2" dy="-6.3" dx="1.1">2</tspan><tspan dy="6.3" dx="-2.3">]</tspan></text>
<text x="333" y="66.5" font-size="12.3" fill="#111" >t<tspan font-size="8.5" dy="2">0</tspan><tspan dy="-2">[s]</tspan></text>
<text x="197.8" y="263.7" font-size="12.8" fill="#111" >d<tspan font-size="8.5" dy="2">e</tspan><tspan dy="-1.4" font-size="14.4">[mm]</tspan></text>
<text x="476.8" y="266.7" font-size="11.9" fill="#111" >d<tspan font-size="8.3" dy="2">c</tspan><tspan dy="-2" dx="0.3"> [mm]</tspan></text>
<text x="198.6" y="104.4" font-size="11.3" text-anchor="start" fill="#111" >V=100V</text>
<text x="198.6" y="173.1" font-size="11.3" text-anchor="start" fill="#111" >V=80V</text>
<text x="198.6" y="228.6" font-size="11.3" text-anchor="start" fill="#111" >V=60V</text>
<text x="501.4" y="123.4" font-size="10.8" text-anchor="start" fill="#111" >V=60V</text>
<text x="501.0" y="201.9" font-size="10.8" text-anchor="start" fill="#111" >V=80V</text>
<text x="500.8" y="237.0" font-size="10.8" text-anchor="start" fill="#111" >V=100V</text>
<text x="151.5" y="89.7" font-size="11.5" text-anchor="start" fill="#111" >a</text>
<text x="151.5" y="121.5" font-size="11.5" text-anchor="start" fill="#111" >b</text>
<text x="151.5" y="152.4" font-size="11.5" text-anchor="start" fill="#111" >c</text>
<text x="151.5" y="182" font-size="11.5" text-anchor="start" fill="#111" >a</text>
<text x="151.5" y="204.1" font-size="11.5" text-anchor="start" fill="#111" >b</text>
<text x="151.5" y="220.4" font-size="11.5" text-anchor="start" fill="#111" >c</text>
<text x="179" y="212.6" font-size="11.5" text-anchor="start" fill="#111" >a</text>
<text x="179" y="226.3" font-size="11.5" text-anchor="start" fill="#111" >b</text>
<text x="179" y="250" font-size="11.5" text-anchor="start" fill="#111" >c</text>
<text x="489" y="90.2" font-size="11.3" text-anchor="start" fill="#111" >c</text>
<text x="489.2" y="127.4" font-size="11.3" text-anchor="start" fill="#111" >b</text>
<text x="489.2" y="153.4" font-size="11.3" text-anchor="start" fill="#111" >a</text>
<text x="488" y="187.5" font-size="11.3" text-anchor="start" fill="#111" >c</text>
<text x="488" y="204" font-size="11.3" text-anchor="start" fill="#111" >b</text>
<text x="488" y="217" font-size="11.3" text-anchor="start" fill="#111" >a</text>
<text x="488" y="225" font-size="11.3" text-anchor="start" fill="#111" >c</text>
<text x="488" y="236.6" font-size="11.3" text-anchor="start" fill="#111" >b</text>
<text x="488" y="247.5" font-size="11.3" text-anchor="start" fill="#111" >a</text>
</svg>
</body></html>
